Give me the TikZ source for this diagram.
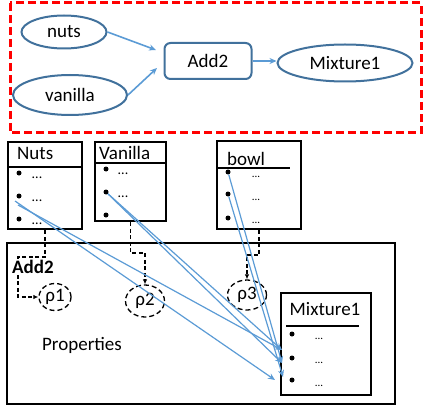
\documentclass[tikz,border=0pt]{standalone}
\usepackage{fontspec}
\setmainfont{Carlito}
\usepackage{tikz}
\usetikzlibrary{shapes.geometric,arrows.meta}
\definecolor{edgeblue}{HTML}{41719C}
\definecolor{linkblue}{HTML}{5B9BD5}

\tikzset{
	concept/.style={ellipse, draw=edgeblue, line width=2pt, inner sep=0pt},
	flow/.style={draw=linkblue, line width=1.6pt, -{Stealth[length=7pt,width=6pt]}},
	record/.style={draw, line width=2.6pt, inner sep=0pt},
	prop/.style={ellipse, draw, dash pattern=on 5pt off 3pt, line width=1.3pt, inner sep=0pt},
	dep/.style={draw, dash pattern=on 4pt off 2.5pt, line width=1.2pt, -{Latex[length=5pt,width=4.5pt]}},
	bul/.style={circle, fill, inner sep=0pt, minimum size=5pt},
	txt/.style={inner sep=0pt},
	bigdots/.style={inner sep=0pt, font=\fontsize{14}{14}\selectfont},
	smalldots/.style={inner sep=0pt, font=\fontsize{11}{11}\selectfont}
}

\begin{document}
\begin{tikzpicture}[x=1pt,y=-1pt,font=\fontsize{19}{22}\selectfont]
	\useasboundingbox (0,0) rectangle (425,406);

	%% Upper part: the recipe graph
	\draw[red, line width=3pt, dash pattern=on 8pt off 4pt] (10,3) rectangle (421,133);
	\node[concept, minimum width=85, minimum height=33] (nuts) at (64,32) {nuts};
	\node[concept, minimum width=114, minimum height=40] (vanilla) at (70,95) {vanilla};
	\node[draw=edgeblue, line width=2pt, rounded corners=6pt, minimum width=87, minimum height=36] (add2) at (208,61) {Add2};
	\node[concept, minimum width=135, minimum height=37] (mixture) at (345,63) {Mixture1};
	\coordinate (in1) at (156,50);
	\coordinate (in2) at (157,68);
	\draw[flow] (nuts.east) -- (in1);
	\draw[flow] (vanilla.east) -- (in2);
	\draw[flow] (add2.east) -- (add2.east -| mixture.west);

	%% Lower part: the objects
	\node[record, minimum width=74, minimum height=87] (nutsbox) at (45,185.5) {};
	\draw[line width=1.2pt] (8,167) -- (82,167);
	\node[txt, anchor=west] (nutsname) at (17,153) {Nuts};
	\foreach \y [count=\i] in {173,196,219} \node[bul] (nb\i) at (19,\y) {};
	\foreach \y in {178,201,224} \node[bigdots] at (37,\y) {...};

	\node[record, minimum width=71, minimum height=79] (vanbox) at (130.5,181.5) {};
	\draw[line width=1.2pt] (95,163) -- (166,163);
	\node[txt, anchor=west] (vanname) at (99,153) {Vanilla};
	\foreach \y [count=\i] in {169,192,215} \node[bul] (vb\i) at (106,\y) {};
	\foreach \y in {174,197} \node[bigdots] at (123,\y) {...};

	\node[record, minimum width=84, minimum height=88] (bowlbox) at (259,185) {};
	\draw[line width=2pt] (218,168) -- (290,168);
	\node[txt, anchor=west] (bowlname) at (227,159) {bowl};
	\foreach \y [count=\i] in {172,194,218} \node[bul] (bb\i) at (228,\y) {};
	\foreach \y in {177,200,223} \node[smalldots] at (256,\y) {...};

	% the kitchen with its properties
	\node[record, minimum width=388, minimum height=161] (kitchen) at (201,323.5) {};
	\node[record, minimum width=90, minimum height=102] (mixbox) at (326,344) {};
	\draw[line width=2pt] (286,326) -- (359,326);
	\node[txt] (mixname) at (325,309) {Mixture1};
	\foreach \y [count=\i] in {334,358,380} \node[bul] (mb\i) at (292,\y) {};
	\foreach \y in {339,363,386} \node[smalldots] at (319,\y) {...};

	\node[prop, minimum width=32, minimum height=27] (rho1) at (55,297) {ρ1};
	\node[prop, minimum width=39, minimum height=32] (rho2) at (145,301) {ρ2};
	\node[prop, minimum width=39, minimum height=30] (rho3) at (247,295) {ρ3};
	\node[txt] (propname) at (82,345) {Properties};

	% which object gives which property
	\coordinate (nturn) at (18,257);
	\coordinate (vturn) at (145,253);
	\coordinate (bturn) at (247,255);
	\draw[dep] (nutsbox.south) |- (nturn) |- (rho1.west);
	\draw[dep] (vanbox.south) |- (vturn) -- (rho2.north);
	\draw[dep] (bowlbox.south) |- (bturn) -- (rho3.north);
	\node[txt, fill=white, font=\fontsize{19}{22}\selectfont\bfseries] (add2tag) at (33,267) {Add2};

	% ingredients into the mixture
	\coordinate (nout1) at (15,201);
	\coordinate (nout2) at (18,205);
	\coordinate (min1) at (282,350);
	\coordinate (min2) at (282,363);
	\coordinate (min3) at (283,377);
	\coordinate (min4) at (275,380);
	\draw[flow, line width=1.2pt] (nout1) -- (min4);
	\draw[flow, line width=1.2pt] (nout2) -- (min1);
	\draw[flow, line width=1.2pt] (vb2) -- (min1);
	\draw[flow, line width=1.2pt] (vb2) -- (min2);
	\draw[flow, line width=1.2pt] (bb1) -- (min2);
	\draw[flow, line width=1.2pt] (bb2) -- (min3);
\end{tikzpicture}
\end{document}
